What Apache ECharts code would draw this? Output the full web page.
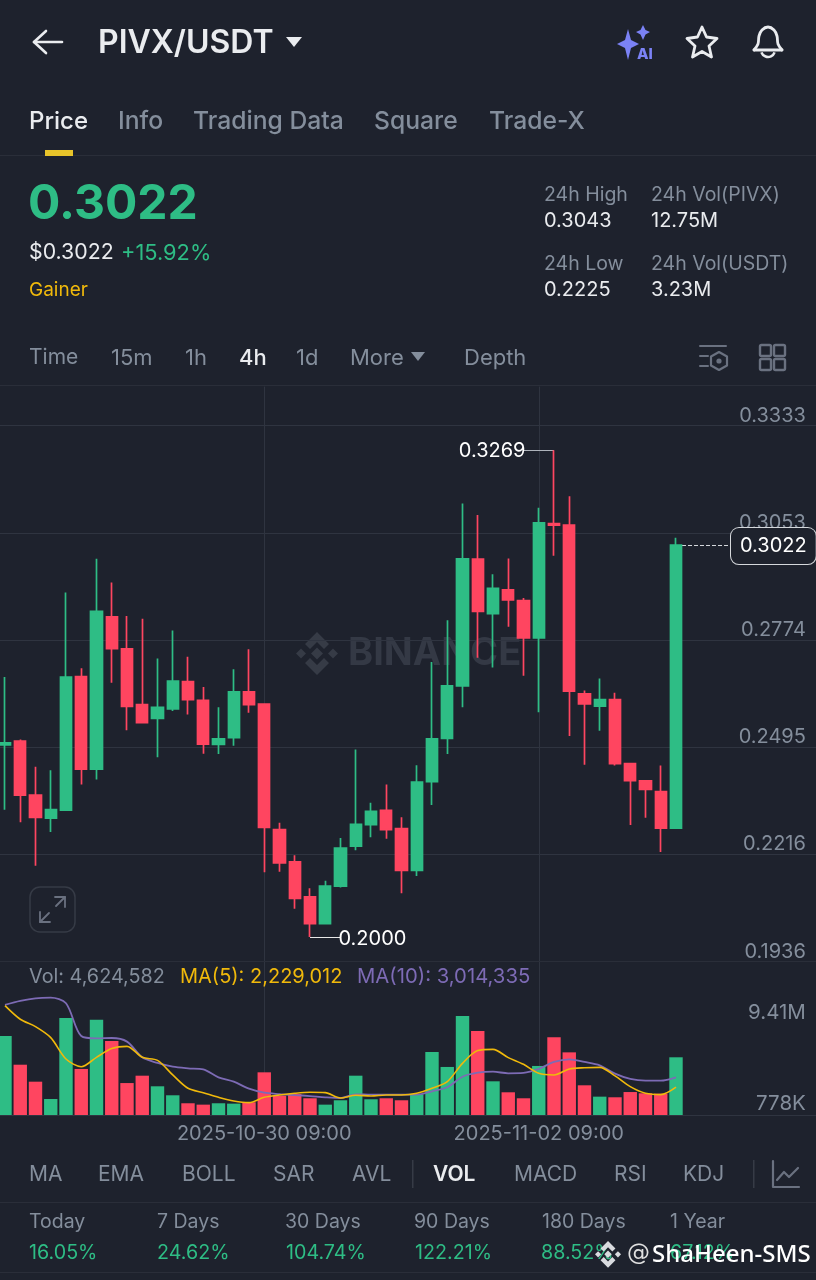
<!DOCTYPE html>
<html><head><meta charset="utf-8">
<style>html,body{margin:0;padding:0;background:#1e222d}#c{width:816px;height:1280px}</style>
<script src="https://cdn.jsdelivr.net/npm/echarts@6/dist/echarts.min.js"></script>
</head><body><div id="c"></div>
<script>
var categories=[
'10-27 13:00','10-27 17:00','10-27 21:00',
'10-28 01:00','10-28 05:00','10-28 09:00','10-28 13:00','10-28 17:00','10-28 21:00',
'10-29 01:00','10-29 05:00','10-29 09:00','10-29 13:00','10-29 17:00','10-29 21:00',
'10-30 01:00','10-30 05:00','10-30 09:00','10-30 13:00','10-30 17:00','10-30 21:00',
'10-31 01:00','10-31 05:00','10-31 09:00','10-31 13:00','10-31 17:00','10-31 21:00',
'11-01 01:00','11-01 05:00','11-01 09:00','11-01 13:00','11-01 17:00','11-01 21:00',
'11-02 01:00','11-02 05:00','11-02 09:00','11-02 13:00','11-02 17:00','11-02 21:00',
'11-03 01:00','11-03 05:00','11-03 09:00','11-03 13:00','11-03 17:00','11-03 21:00',
'11-04 01:00','11-04 05:00','11-04 09:00','11-04 13:00','11-04 17:00','11-04 21:00',
'11-05 01:00','11-05 05:00','11-05 09:00'];
// [open, close, low, high]
var candles=[
[.2501,.2506,.2332,.2678],[.2511,.2370,.2299,.2515],[.2370,.2312,.2186,.2444],[.2310,.2332,.2274,.2435],
[.2331,.2678,.2329,.2898],[.2679,.2438,.2398,.2701],[.2438,.2849,.2411,.2986],[.2835,.2752,.2663,.2924],
[.2751,.2601,.2539,.2837],[.2606,.2559,.2558,.2830],[.2570,.2599,.2469,.2726],[.2595,.2667,.2589,.2799],
[.2666,.2619,.2580,.2731],[.2617,.2503,.2478,.2652],[.2502,.2517,.2477,.2599],[.2520,.2639,.2499,.2698],
[.2639,.2606,.2585,.2750],[.2607,.2286,.2169,.2607],[.2280,.2193,.2170,.2298],[.2196,.2101,.2074,.2213],
[.2105,.2035,.2000,.2127],[.2035,.2133,.2035,.2147],[.2133,.2232,.2129,.2258],[.2237,.2294,.2226,.2489],
[.2293,.2328,.2260,.2350],[.2330,.2280,.2256,.2398],[.2283,.2174,.2114,.2312],[.2174,.2404,.2159,.2448],
[.2405,.2517,.2344,.2717],[.2518,.2655,.2477,.2826],[.2655,.2986,.2599,.3130],[.2985,.2849,.2728,.3100],
[.2843,.2909,.2703,.2946],[.2905,.2879,.2809,.2987],[.2877,.2780,.2681,.2884],[.2780,.3080,.2586,.3119],
[.3078,.3074,.2994,.3269],[.3074,.2641,.2524,.3149],[.2634,.2608,.2449,.2643],[.2602,.2619,.2538,.2674],
[.2619,.2452,.2447,.2637],[.2452,.2408,.2292,.2452],[.2407,.2385,.2311,.2408],[.2379,.2284,.2222,.2447],
[.2284,.3022,.2284,.3041]];
var volumes=[6.33,4.03,2.67,1.28,7.77,3.69,7.64,5.93,2.56,3.15,2.30,1.58,.94,.83,.94,.91,1.02,3.42,1.55,1.68,1.34,.83,1.18,3.15,1.26,1.34,1.18,1.66,5.05,3.85,7.93,6.73,2.70,1.82,1.34,3.93,6.23,5.02,2.38,1.47,1.42,1.84,1.74,1.71,4.624582];
var ma5=[8.76,7.67,7.08,6.20,4.49,3.87,4.62,5.32,5.50,4.62,4.38,3.21,2.14,1.79,1.42,1.12,.99,1.42,1.60,1.74,1.82,1.79,1.36,1.58,1.52,1.60,1.60,1.74,2.14,2.67,4.14,5.16,5.26,4.60,4.06,3.34,3.21,3.69,3.79,3.82,3.13,2.27,1.74,1.63,2.229012];
var ma10=[8.82,9.14,9.35,9.40,8.95,6.33,6.14,6.17,5.88,4.62,4.17,3.87,3.74,3.66,3.02,2.67,2.11,1.79,1.68,1.60,1.52,1.42,1.36,1.66,1.63,1.63,1.63,1.63,1.90,2.22,3.07,3.39,3.47,3.34,3.37,3.69,4.25,4.46,4.25,3.98,3.31,2.89,2.75,2.75,3.014335];
var priceTicks=[.1936,.2216,.2495,.2774,.3053,.3333];
var volTicks=[.778,9.41];
var dateTicks={17:'2025-10-30 09:00',35:'2025-11-02 09:00'};
var lastPrice=.3022, highPrice=.3269, lowPrice=.2000;

var BG='#1e222d',UP='#2ebd85',DN='#ff4560',GRID='#2f3440',GRAY='#848e9c',WHITE='#eaecef',YEL='#f0b90b',PUR='#7d6bb5',ICON='#6a7180',AI='#7b82f5';
var FONT='Inter';
function T(s,x,y,size,color,weight,extra){
  var st={text:s,x:x,y:y+1,font:(weight||400)+' '+size+'px '+FONT,fill:color,verticalAlign:'middle'};
  if(extra)for(var k in extra)st[k]=extra[k];
  return {type:'text',silent:true,z:10,style:st};
}
function hline(y){return {type:'rect',silent:true,z:1,shape:{x:0,y:y,width:816,height:1},style:{fill:'#2a2e39'}};}
function off(pts,ox,oy,s){s=s||1;return pts.map(function(p){return [ox+p[0]*s,oy+p[1]*s];});}
function PL(pts,ox,oy,stroke,lw,smooth){return {type:'polyline',silent:true,z:10,shape:{points:off(pts,ox,oy),smooth:smooth||0},style:{stroke:stroke,fill:null,lineWidth:lw||2.6,lineCap:'round',lineJoin:'round'}};}
function PG(pts,ox,oy,fill,z,s){return {type:'polygon',silent:true,z:z===undefined?10:z,shape:{points:off(pts,ox,oy,s)},style:{fill:fill}};}
function PS(pts,ox,oy,stroke,lw){return {type:'polygon',silent:true,z:10,shape:{points:off(pts,ox,oy)},style:{fill:'none',stroke:stroke,lineWidth:lw||2.4,lineJoin:'round'}};}
function logo(ox,oy,s,fill,z){
  return [
   [[21,0],[33,12],[28,17],[21,10],[14,17],[9,12]],
   [[21,43],[33,31],[28,26],[21,33],[14,26],[9,31]],
   [[0,21.5],[5,16.5],[10,21.5],[5,26.5]],
   [[32,21.5],[37,16.5],[42,21.5],[37,26.5]],
   [[21,15.5],[27,21.5],[21,27.5],[15,21.5]]
  ].map(function(p){return PG(p,ox,oy,fill,z,s);});
}
var g=[];
[155,385,961,1202,1272].forEach(function(y){g.push(hline(y));});
// header
g.push(PL([[12,0],[0,11],[12,22]],34,31,WHITE));
g.push(PL([[0,11],[28,11]],34,31,WHITE));
g.push(T('PIVX/USDT',98,42,32,WHITE,600));
g.push(PG([[0,0],[16,0],[8,10]],286,37,WHITE));
g.push(PG([[0,15],[8,11],[11,0],[14,11],[22,15],[14,19],[11,31],[8,19]],617,29,AI));
g.push(PG([[0,7],[4.5,5],[7,0],[9.5,5],[14,7],[9.5,9.5],[7,15],[4.5,9.5]],636,25,AI));
g.push(T('AI',637,53,15,AI,800));
g.push(PS([[16,1],[20.5,11],[31,12.5],[23,20],[25.5,31],[16,25.5],[6.5,31],[9,20],[1,12.5],[11.5,11]],686,26,WHITE,2.8));
g.push(PL([[2,24],[6,18],[7,10],[10,4],[16,1],[22,4],[25,10],[26,18],[30,24]],752,26,WHITE,2.8,.35));
g.push(PL([[2,24],[30,24]],752,26,WHITE,2.8));
g.push({type:'arc',silent:true,z:10,shape:{cx:768,cy:50,r:7,startAngle:.35,endAngle:2.8},style:{stroke:WHITE,lineWidth:2.6,fill:'none'}});
// tabs
g.push(T('Price',29,121,24,WHITE,500));
[['Info',118],['Trading Data',193],['Square',374],['Trade-X',489]].forEach(function(a){g.push(T(a[0],a[1],121,24.7,GRAY,500));});
g.push({type:'rect',silent:true,z:10,shape:{x:45,y:150,width:28,height:6},style:{fill:'#e8c42a'}});
// price summary
g.push(T('0.3022',28,204,48,UP,700));
g.push(T('$0.3022',29,252,21.3,WHITE,400));
g.push(T('+15.92%',121,252,21.8,UP,400));
g.push(T('Gainer',29,289,19,YEL,400));
[['24h High',544,194,GRAY,19.5],['0.3043',544,220,WHITE,20],['24h Vol(PIVX)',651,194,GRAY,19.5],['12.75M',651,220,WHITE,20],
 ['24h Low',544,263,GRAY,19.5],['0.2225',544,289,WHITE,20],['24h Vol(USDT)',651,263,GRAY,19.5],['3.23M',651,289,WHITE,20]
].forEach(function(a){g.push(T(a[0],a[1],a[2],a[4],a[3],400));});
// intervals
[['Time',29,21],['15m',111,22],['1h',185,22],['1d',296,22],['More',350,22],['Depth',464,22]].forEach(function(a){g.push(T(a[0],a[1],357,a[2],GRAY,400));});
g.push(T('4h',239,357,22,WHITE,500));
g.push(PG([[0,0],[14,0],[7,9]],411,352,GRAY));
g.push(PL([[0,0],[26,0]],700,346,ICON,2));
g.push(PL([[0,0],[8,0]],700,356,ICON,2));
g.push(PL([[0,0],[8,0]],700,366,ICON,2));
g.push(PS([[9,0],[17,4.5],[17,13.5],[9,18],[1,13.5],[1,4.5]],710,352,ICON,2.2));
g.push({type:'circle',silent:true,z:10,shape:{cx:719,cy:361,r:2.6},style:{fill:ICON}});
[[760,345],[774,345],[760,359],[774,359]].forEach(function(p){g.push({type:'rect',silent:true,z:10,shape:{x:p[0],y:p[1],width:11,height:11,r:1.5},style:{fill:'none',stroke:ICON,lineWidth:2.4}});});
// watermark
logo(296,632,1,'#363b46',0).forEach(function(e){g.push(e);});
g.push({type:'text',silent:true,z:0,style:{text:'BINANCE',x:348,y:654,font:'700 38px '+FONT,fill:'#343945',verticalAlign:'middle'}});
// expand button
g.push({type:'rect',silent:true,z:10,shape:{x:30,y:887,width:45,height:45,r:10},style:{fill:'none',stroke:'#363b46',lineWidth:1.5}});
g.push(PL([[15,0],[25,0],[25,10]],40,897,ICON,1.8));g.push(PL([[25,0],[16,9]],40,897,ICON,1.8));
g.push(PL([[0,15],[0,25],[10,25]],40,897,ICON,1.8));g.push(PL([[0,25],[9,16]],40,897,ICON,1.8));
// legend
g.push(T('Vol: 4,624,582',29,976,19.8,GRAY,400));
g.push(T('MA(5): 2,229,012',180,976,20,YEL,400));
g.push(T('MA(10): 3,014,335',357,976,20.3,PUR,400));
// indicators
[['MA',29],['EMA',98],['BOLL',182],['SAR',273],['AVL',352],['MACD',514],['RSI',614],['KDJ',683]].forEach(function(a){g.push(T(a[0],a[1],1174,21,GRAY,400));});
g.push(T('VOL',433,1174,21,WHITE,600));
g.push({type:'rect',silent:true,z:10,shape:{x:412,y:1160,width:1.5,height:28},style:{fill:'#363b46'}});
g.push({type:'rect',silent:true,z:10,shape:{x:753,y:1160,width:1.5,height:28},style:{fill:'#363b46'}});
g.push(PL([[0,0],[0,26],[26,26]],773,1161,ICON,2.2));
g.push(PL([[4,19],[11,11],[16,16],[25,7]],773,1161,ICON,2.2));
// returns
[['Today',29,'16.05%',29],['7 Days',157,'24.62%',157],['30 Days',285,'104.74%',286],['90 Days',414,'122.21%',415],['180 Days',542,'88.52%',541],['1 Year',670,'67.12%',670]].forEach(function(a){
  g.push(T(a[0],a[1],1221,19.5,GRAY,400));g.push(T(a[2],a[3],1252,19.7,UP,400));
});
// user watermark
logo(595,1241,.62,'#d9dbdf',11).forEach(function(e){g.push(e);});
g.push({type:'text',silent:true,z:11,style:{text:'@',x:627,y:1254,font:'500 23px "DejaVu Sans"',fill:'#e0e0e0',verticalAlign:'middle'}});
g.push({type:'text',silent:true,z:11,style:{text:'ShaHeen-SMS',x:652,y:1255,font:'500 24px "Noto Sans"',fill:'#ffffff',verticalAlign:'middle'}});

var dir=function(c){return c[1]>=c[0];};
var vm=volumes.map(function(v,i){return {value:v*1e6,itemStyle:{color:dir(candles[i])?UP:DN}};});
var showDate=function(i){return dateTicks[i]!==undefined;};
var chart=echarts.init(document.getElementById('c'),null,{renderer:'canvas',width:816,height:1280});
var gridL=-2.625,gridW=823.5;
chart.setOption({
 animation:false,backgroundColor:BG,textStyle:{fontFamily:FONT},
 graphic:g,
 grid:[{left:gridL,width:gridW,top:386.6,height:575,outerBoundsMode:'none'},{left:gridL,width:gridW,top:961,height:154,outerBoundsMode:'none'}],
 xAxis:[
  {type:'category',gridIndex:0,data:categories,boundaryGap:true,axisLine:{show:false},axisTick:{show:false},axisLabel:{show:false},
   splitLine:{show:true,alignWithLabel:true,interval:function(i){return showDate(i);},lineStyle:{color:GRID,width:1}}},
  {type:'category',gridIndex:1,data:categories,boundaryGap:true,axisLine:{show:true,lineStyle:{color:GRID}},axisTick:{show:false},
   axisLabel:{show:true,interval:function(i){return showDate(i);},formatter:function(v,i){return dateTicks[i]||'';},color:GRAY,fontSize:20,fontFamily:FONT,margin:9},
   splitLine:{show:true,alignWithLabel:true,interval:function(i){return showDate(i);},lineStyle:{color:GRID,width:1}}}
 ],
 yAxis:[
  {type:'value',gridIndex:0,position:'right',min:.1936,max:.3435,scale:true,
   axisLine:{show:false},axisTick:{show:false,customValues:priceTicks},
   splitLine:{show:true,lineStyle:{color:GRID,width:1}},
   axisLabel:{inside:true,customValues:priceTicks,margin:15,color:GRAY,fontSize:20,lineHeight:20,fontFamily:FONT,verticalAlign:'bottom',formatter:function(v){return v.toFixed(4);}}},
  {type:'value',gridIndex:1,position:'right',min:0,max:12.34e6,
   axisLine:{show:false},axisTick:{show:false},splitLine:{show:false},
   axisLabel:{inside:true,customValues:volTicks.map(function(v){return v*1e6;}),margin:15,color:GRAY,fontSize:20.5,fontFamily:FONT,
     formatter:function(v){return v>5e6?'{hi|9.41M}':'{lo|778K}';},
     rich:{hi:{color:GRAY,fontSize:20.5,fontFamily:FONT,padding:[31,0,0,0]},lo:{color:GRAY,fontSize:20.5,fontFamily:FONT,padding:[0,0,3,0]}}}}
 ],
 series:[
  {type:'candlestick',xAxisIndex:0,yAxisIndex:0,data:candles,barWidth:11.8,z:5,
   itemStyle:{color:UP,color0:DN,borderColor:UP,borderColor0:DN,borderWidth:1.7},
   markLine:{silent:true,symbol:'none',animation:false,precision:4,data:[
     [{coord:[44,lastPrice],lineStyle:{color:'#d5d8dc',type:'dashed',width:1}},
      {coord:[48,lastPrice],label:{show:true,position:'end',formatter:lastPrice.toFixed(4),color:'#fff',fontSize:20,fontFamily:FONT,backgroundColor:BG,borderColor:'#d5d8dc',borderWidth:1,borderRadius:8,padding:[8,9,8,9],distance:-6,offset:[0,1]}}],
     [{coord:[36,highPrice],lineStyle:{color:'#aeb3bb',type:'solid',width:1}},
      {coord:[34,highPrice],label:{show:true,position:'end',formatter:highPrice.toFixed(4),color:'#fff',fontSize:20,fontFamily:FONT,distance:-2,offset:[0,1]}}],
     [{coord:[20,lowPrice],lineStyle:{color:'#e8e8e8',type:'solid',width:1}},
      {coord:[22,lowPrice],label:{show:true,position:'end',formatter:lowPrice.toFixed(4),color:'#fff',fontSize:20,fontFamily:FONT,distance:-2,offset:[0,2]}}]
   ]}},
  {type:'bar',name:'VOL',xAxisIndex:1,yAxisIndex:1,data:vm,barWidth:13.4,z:3},
  {type:'line',name:'MA5',xAxisIndex:1,yAxisIndex:1,data:ma5.map(function(v){return v*1e6;}),symbol:'none',smooth:.3,lineStyle:{color:YEL,width:1.6},z:5},
  {type:'line',name:'MA10',xAxisIndex:1,yAxisIndex:1,data:ma10.map(function(v){return v*1e6;}),symbol:'none',smooth:.3,lineStyle:{color:PUR,width:1.8},z:4}
 ]
});
</script></body></html>
